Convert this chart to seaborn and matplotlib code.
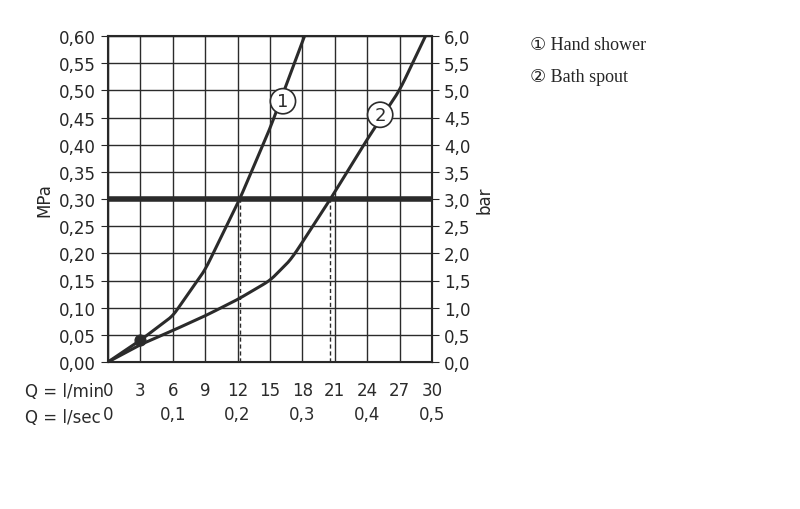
import numpy as np
import matplotlib.pyplot as plt
import seaborn as sns

q1 = [0, 3, 6, 9, 12.2, 15, 18.2]
p1 = [0, 0.04, 0.085, 0.17, 0.30, 0.43, 0.60]
q2 = [0, 3, 6, 9, 12, 15, 17, 20.6, 24, 27, 29.4]
p2 = [0, 0.032, 0.058, 0.085, 0.115, 0.15, 0.19, 0.30, 0.41, 0.50, 0.60]
lmin_ticks = [0, 3, 6, 9, 12, 15, 18, 21, 24, 27, 30]
lsec_labels = ["0", "0,1", "0,2", "0,3", "0,4", "0,5"]

sns.set_style("white")
plt.rcParams["font.family"] = ["DejaVu Sans"]
fig = plt.figure(figsize=(8, 5.1), dpi=100)
ax = fig.add_axes([108 / 800, 1 - 363 / 510, 324 / 800, 326 / 510])

def smooth(x, y):
    t = np.linspace(0, len(x) - 1, 200)
    i = np.arange(len(x))
    from numpy.polynomial import polynomial
    xs = np.interp(t, i, x)
    ys = np.interp(t, i, y)
    k = np.ones(9) / 9
    xs2 = np.convolve(np.pad(xs, 4, mode="edge"), k, "valid")
    ys2 = np.convolve(np.pad(ys, 4, mode="edge"), k, "valid")
    xs2[0], ys2[0], xs2[-1], ys2[-1] = x[0], y[0], x[-1], y[-1]
    return xs2, ys2

for q, p in [(q1, p1), (q2, p2)]:
    xs, ys = smooth(q, p)
    sns.lineplot(x=xs, y=ys, ax=ax, color="#2b2b2b", lw=2.2, sort=False)

ax.set_xlim(0, 30)
ax.set_ylim(0, 0.6)
ax.set_xticks(np.arange(0, 31, 3))
ax.set_yticks(np.arange(0, 0.601, 0.05))
ax.grid(True, color="#2b2b2b", lw=1)
for s in ax.spines.values():
    s.set_color("#2b2b2b")
    s.set_linewidth(1.5)
ax.axhline(0.30, color="#2b2b2b", lw=4)
for x in [12.2, 20.6]:
    ax.plot([x, x], [0, 0.30], color="#2b2b2b", lw=1, ls=(0, (3, 2)))
ax.scatter([3], [0.04], s=60, color="#2b2b2b", zorder=5)
for x, y, t in [(16.2, 0.48, "1"), (25.2, 0.455, "2")]:
    ax.text(x, y, t, ha="center", va="center", fontsize=13, color="#2b2b2b",
            bbox=dict(boxstyle="circle,pad=0.2", fc="white", ec="#2b2b2b", lw=1.2))

ax.set_yticklabels([f"{v:.2f}".replace(".", ",") for v in np.arange(0, 0.601, 0.05)], fontsize=12)
ax.tick_params(axis="y", length=5, direction="out", left=True)
ax.set_ylabel("MPa", fontsize=12)
ax.set_xticklabels([])
ax.tick_params(axis="x", length=0)
ax2 = ax.twinx()
ax2.set_ylim(0, 6)
ax2.set_yticks(np.arange(0, 6.01, 0.5))
ax2.set_yticklabels([f"{v:.1f}".replace(".", ",") for v in np.arange(0, 6.01, 0.5)], fontsize=12)
ax2.tick_params(axis="y", length=5, direction="out", right=True)
ax2.set_ylabel("bar", fontsize=12)
ax2.grid(False)

for q in lmin_ticks:
    ax.text(q, -0.035, str(q), ha="center", va="top", fontsize=12, color="#2b2b2b",
            transform=ax.transData, clip_on=False)
for i, t in enumerate(lsec_labels):
    ax.text(i * 6, -0.08, t, ha="center", va="top", fontsize=12, color="#2b2b2b", clip_on=False)
fig.text(25 / 800, 1 - 392 / 510, "Q = l/min", fontsize=12, va="center", color="#2b2b2b")
fig.text(25 / 800, 1 - 418 / 510, "Q = l/sec", fontsize=12, va="center", color="#2b2b2b")

fig.text(530 / 800, 1 - 46 / 510, "\u2460 Hand shower", fontsize=13, va="center",
         family=["Liberation Serif", "DejaVu Sans"])
fig.text(530 / 800, 1 - 78 / 510, "\u2461 Bath spout", fontsize=13, va="center",
         family=["Liberation Serif", "DejaVu Sans"])
fig.savefig("out.png", dpi=100)
